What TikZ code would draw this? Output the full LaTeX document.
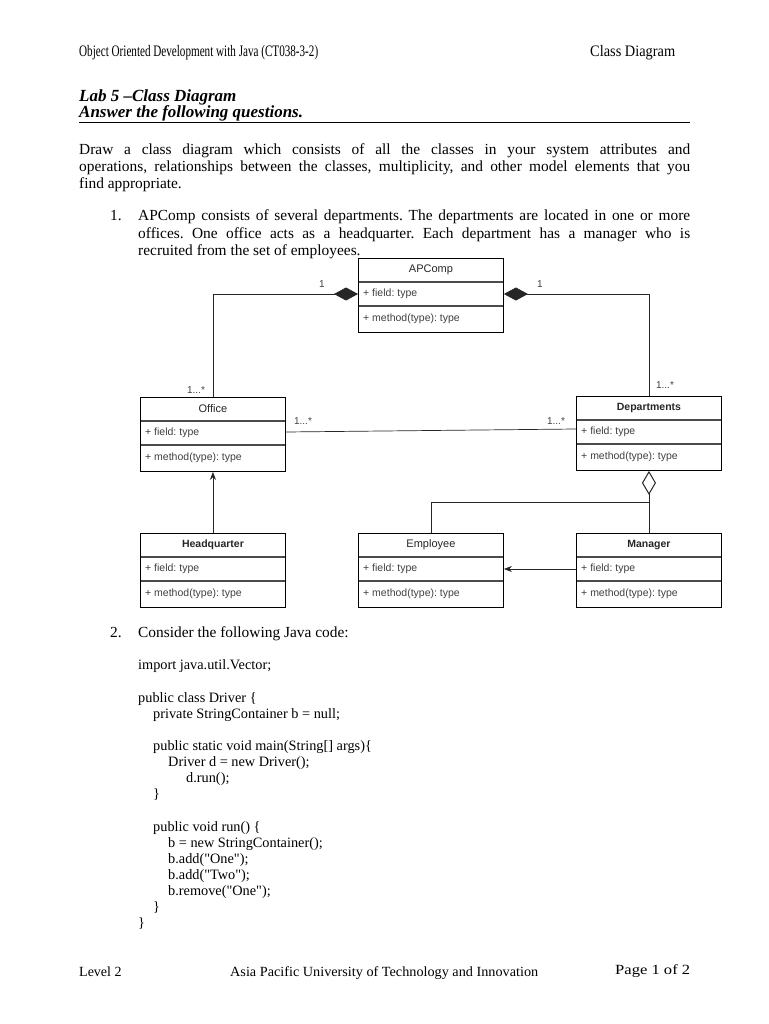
\documentclass[tikz,border=0pt]{standalone}
\usepackage{fontspec}
\setmainfont{Liberation Serif}
\newfontfamily\diag{Liberation Sans}
\newfontfamily\codefont{Liberation Serif}[Ligatures=TeXOff]
\usetikzlibrary{arrows.meta,calc}
\frenchspacing

\tikzset{
  txt/.style={anchor=base west,inner sep=0pt,font=\fontsize{15.4}{17}\selectfont},
  code/.style={anchor=base west,inner sep=0pt,font=\codefont\fontsize{14.3}{16}\selectfont},
  clsbox/.style={draw,line width=0.9pt,minimum width=145pt,minimum height=74pt,inner sep=0pt,fill=white},
  divider/.style={line width=1.3pt,draw=black!70},
  clstitle/.style={inner sep=0pt,text=black!85,font=\diag\fontsize{11}{12}\selectfont},
  member/.style={anchor=west,inner sep=0pt,text=black!75,font=\diag\fontsize{10.5}{12}\selectfont},
  mult/.style={inner sep=0pt,text=black!75,font=\diag\fontsize{10}{12}\selectfont},
  conn/.style={line width=0.7pt,draw=black!85},
  comp/.style={conn,-{Diamond[length=24pt,width=13pt]}},
  aggr/.style={conn,-{Diamond[open,length=24pt,width=14pt,line width=1pt]}},
  arr/.style={conn,-{Stealth[length=8pt,width=6pt]}}
}

\newcommand\umlclass[5]{%
  \node[clsbox,anchor=north west] (#1) at (#2,#3) {};
  \draw[divider] ($(#1.north west)+(0.6,24)$) -- ($(#1.north east)+(-0.6,24)$);
  \draw[divider] ($(#1.north west)+(0.6,48)$) -- ($(#1.north east)+(-0.6,48)$);
  \node[clstitle,#5] (#1-t) at ($(#1.north)+(0,12)$) {#4};
  \coordinate (#1-fl) at ($(#1.north west)+(0,36)$);
  \coordinate (#1-fr) at ($(#1.north east)+(0,36)$);
  \node[member] (#1-f) at ($(#1-fl)+(5,0)$) {+ field: type};
  \node[member] (#1-m) at ($(#1.north west)+(5,61)$) {+ method(type): type};
}
\newcommand\dq{\char"22\relax}

\begin{document}
\begin{tikzpicture}[x=1pt,y=-1pt]
\fill[white] (0,0) rectangle (768,1024);
\useasboundingbox (0,0) rectangle (768,1024);

% header
\node[txt,font=\fontsize{16}{18}\selectfont] (h1) at (79,57) {\resizebox{239pt}{\height}{Object Oriented Development with Java (CT038-3-2)}};
\node[txt,font=\fontsize{16}{18}\selectfont] (h2) at (590,57) {\resizebox{85pt}{\height}{Class Diagram}};

% title
\node[txt,font=\fontsize{17}{19}\bfseries\itshape\selectfont] (t1) at (79,102) {Lab 5 –Class Diagram};
\node[txt,font=\fontsize{17}{19}\bfseries\itshape\selectfont] (t2) at (79,118) {Answer the following questions.};
\draw[line width=1.8pt] (79,122.5) -- (690,122.5);

% paragraph
\node[txt] (p1) at (79,155) {\makebox[611pt][s]{Draw a class diagram which consists of all the classes in your system attributes and}};
\node[txt] (p2) at (79,172) {\makebox[611pt][s]{operations, relationships between the classes, multiplicity, and other model elements that you}};
\node[txt] (p3) at (79,189) {find appropriate.};

% item 1
\node[txt] (n1) at (110,221) {1.};
\node[txt] (q1a) at (138,221) {\makebox[552pt][s]{APComp consists of several departments. The departments are located in one or more}};
\node[txt] (q1b) at (138,238) {\makebox[552pt][s]{offices. One office acts as a headquarter. Each department has a manager who is}};
\node[txt] (q1c) at (138,255) {recruited from the set of employees.};

% classes
\umlclass{apcomp}{358}{258}{APComp}{}
\umlclass{office}{140}{397}{Office}{}
\umlclass{dept}{576}{396}{Departments}{font=\diag\bfseries\fontsize{10.5}{12}\selectfont}
\umlclass{hq}{140}{533}{Headquarter}{font=\diag\bfseries\fontsize{10.5}{12}\selectfont}
\umlclass{emp}{358}{533}{Employee}{}
\umlclass{mgr}{576}{533}{Manager}{font=\diag\bfseries\fontsize{10.5}{12}\selectfont}

% connectors
\draw[comp] (office.north) |- (apcomp-fl);
\draw[comp] (dept.north) |- (apcomp-fr);
\draw[conn] ($(office-fr)+(0,-1)$) -- ($(dept-fl)+(0,-3)$);
\draw[arr] (hq.north) -- (office.south);
\coordinate (j) at ($(dept.south)+(0,31)$);
\draw[aggr] (mgr.north) -- (dept.south);
\draw[conn] (emp.north) |- (j);
\draw[arr] (mgr-fl) -- (emp-fr);

% multiplicities
\node[mult] (m1) at (322,284) {1};
\node[mult] (m2) at (540,284) {1};
\node[mult] (m3) at (196,390) {1...*};
\node[mult] (m4) at (665,385) {1...*};
\node[mult] (m5) at (303,421) {1...*};
\node[mult] (m6) at (556,421) {1...*};

% item 2
\node[txt] (n2) at (110,637) {2.};
\node[txt] (q2) at (138,637) {Consider the following Java code:};

\node[code] (c1) at (138,669) {import java.util.Vector;};
\node[code] (c2) at (138,702) {public class Driver \{};
\node[code] (c3) at (153,718) {private StringContainer b = null;};
\node[code] (c4) at (153,750) {public static void main(String[] args)\{};
\node[code] (c5) at (168,766) {Driver d = new Driver();};
\node[code] (c6) at (186,782) {d.run();};
\node[code] (c7) at (153,798) {\}};
\node[code] (c8) at (153,831) {public void run() \{};
\node[code] (c9) at (168,847) {b = new StringContainer();};
\node[code] (c10) at (168,863) {b.add(\dq One\dq);};
\node[code] (c11) at (168,879) {b.add(\dq Two\dq);};
\node[code] (c12) at (168,895) {b.remove(\dq One\dq);};
\node[code] (c13) at (153,911) {\}};
\node[code] (c14) at (138,927) {\}};

% footer
\node[txt,font=\fontsize{14}{16}\selectfont] (f1) at (79,976.5) {Level 2};
\node[txt,font=\fontsize{14}{16}\selectfont] (f2) at (230,976.5) {\resizebox{308pt}{\height}{Asia Pacific University of Technology and Innovation}};
\node[txt,font=\fontsize{14}{16}\selectfont] (f3) at (615,974.5) {\resizebox{75pt}{\height}{Page 1 of 2}};
\end{tikzpicture}
\end{document}
